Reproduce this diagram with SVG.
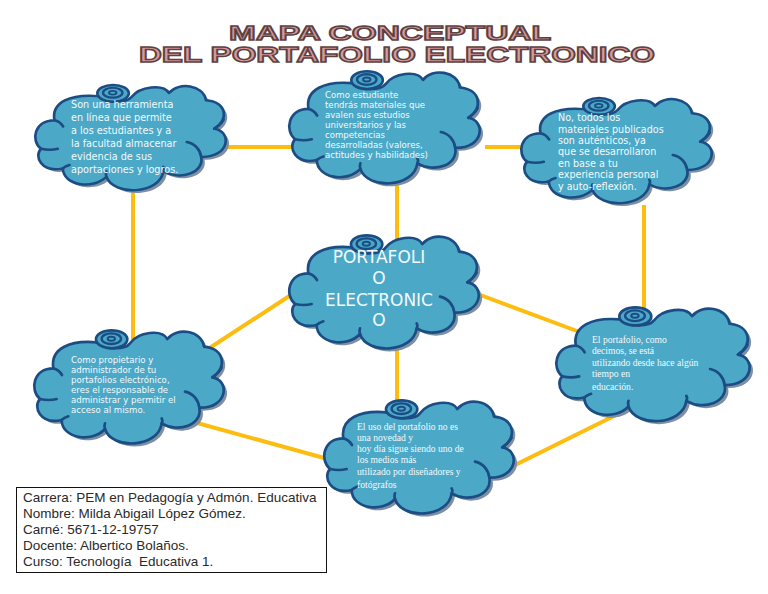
<svg xmlns="http://www.w3.org/2000/svg" width="768" height="594" viewBox="0 0 768 594">
<style>
.bg{fill:#fff}
.t{font-family:"Liberation Sans",Arial,sans-serif;font-weight:bold;fill:#d99a9c;stroke:#5c4141;stroke-width:1.4px}
.link{stroke:#fcbc10;stroke-width:4;fill:none}
.dv{font-family:"DejaVu Sans",sans-serif;fill:#f2fafc}
.se{font-family:"Liberation Serif",serif;fill:#f2fafc;font-size:9.6px}
.box{font-family:"Liberation Sans",Arial,sans-serif;font-size:13.5px;fill:#2a2a2a}
</style>
<defs>
<path id="outline" d="M70 130C60 70 120 45 200 52C225 75 285 75 300 55C325 20 395 12 412 42C440 5 515 15 522 65C585 70 592 130 547 157C600 165 595 250 508 248C518 300 445 325 395 295C385 370 245 375 225 312C185 355 95 340 95 285C30 300 8 245 30 222C-2 195 10 130 70 130Z"/>
<g id="cloud">
<use href="#outline" fill="#7d90a3" transform="translate(10,9)"/>
<use href="#outline" fill="#4ba8c7" stroke="#1b4c84" stroke-width="8" stroke-linejoin="round"/>
<path d="M30 222C48 226 65 226 80 222M70 130C80 132 90 140 96 150M547 157C560 148 570 138 575 128M465 200C490 205 505 225 508 248M395 295C398 290 398 285 395 280M225 312C223 305 223 300 225 295M95 285C100 280 108 276 115 274" fill="none" stroke="#1b4c84" stroke-width="8" stroke-linecap="round"/>
<ellipse cx="245" cy="43" rx="47" ry="27" fill="#4ba8c7" stroke="#1b4c84" stroke-width="8"/>
<ellipse cx="244" cy="41" rx="29" ry="16" fill="none" stroke="#1b4c84" stroke-width="7"/>
<ellipse cx="244" cy="41" rx="11" ry="6" fill="#4ba8c7" stroke="#1b4c84" stroke-width="6"/>
</g>
</defs>
<rect class="bg" width="768" height="594"/>
<g id="title">
<text class="t" x="229" y="39.500" font-size="20.500" textLength="322" lengthAdjust="spacingAndGlyphs">MAPA CONCEPTUAL</text>
<text class="t" x="139" y="61.500" font-size="22" textLength="516" lengthAdjust="spacingAndGlyphs">DEL PORTAFOLIO ELECTRONICO</text>
</g>
<g id="connectors">
<line class="link" x1="215" y1="147" x2="310" y2="147"/>
<line class="link" x1="485" y1="147" x2="535" y2="147"/>
<line class="link" x1="133" y1="185" x2="133" y2="340"/>
<line class="link" x1="397" y1="175" x2="397" y2="245"/>
<line class="link" x1="397" y1="340" x2="397" y2="415"/>
<line class="link" x1="644" y1="205" x2="644" y2="320"/>
<line class="link" x1="300" y1="289" x2="205" y2="351"/>
<line class="link" x1="475" y1="293" x2="585" y2="334"/>
<line class="link" x1="190" y1="421" x2="335" y2="461"/>
<line class="link" x1="505" y1="470" x2="620" y2="413"/>
</g>
<g id="node-herramienta">
<use href="#cloud" transform="translate(31,80) scale(.335,.31)"/>
<g class="dv" font-size="9.700">
<text x="71" y="108">Son una herramienta</text>
<text x="71" y="121">en línea que permite</text>
<text x="71" y="134">a los estudiantes y a</text>
<text x="71" y="147">la facultad almacenar</text>
<text x="71" y="160">evidencia de sus</text>
<text x="71" y="173">aportaciones y logros.</text>
</g>
</g>
<g id="node-estudiante">
<use href="#cloud" transform="translate(285,66) scale(.335,.33)"/>
<g class="dv" font-size="8.600">
<text x="325" y="98">Como estudiante</text>
<text x="325" y="108">tendrás materiales que</text>
<text x="325" y="118">avalen sus estudios</text>
<text x="325" y="128">universitarios y las</text>
<text x="325" y="138">competencias</text>
<text x="325" y="148">desarrolladas (valores,</text>
<text x="325" y="158">actitudes y habilidades)</text>
</g>
</g>
<g id="node-autenticos">
<use href="#cloud" transform="translate(517,93) scale(.335,.31)"/>
<g class="dv" font-size="9.600">
<text x="558" y="121">No, todos los</text>
<text x="558" y="133">materiales publicados</text>
<text x="558" y="144">son auténticos, ya</text>
<text x="558" y="155">que se desarrollaron</text>
<text x="558" y="167">en base a tu</text>
<text x="558" y="178">experiencia personal</text>
<text x="558" y="190">y auto-reflexión.</text>
</g>
</g>
<g id="node-central">
<use href="#cloud" transform="translate(285,230) scale(.3333)"/>
<g class="dv" font-size="17" text-anchor="middle">
<text x="379" y="263">PORTAFOLI</text>
<text x="379" y="284">O</text>
<text x="379" y="306">ELECTRONIC</text>
<text x="379" y="326">O</text>
</g>
</g>
<g id="node-propietario">
<use href="#cloud" transform="translate(30,325) scale(.3333)"/>
<g class="dv" font-size="8.600">
<text x="71" y="363">Como propietario y</text>
<text x="71" y="373">administrador de tu</text>
<text x="71" y="383">portafolios electrónico,</text>
<text x="71" y="393">eres el responsable de</text>
<text x="71" y="403">administrar y permitir el</text>
<text x="71" y="413">acceso al mismo.</text>
</g>
</g>
<g id="node-uso">
<use href="#cloud" transform="translate(320,395) scale(.3333)"/>
<text class="se" x="357" y="430">El uso del portafolio no es</text>
<text class="se" x="357" y="441">una novedad y</text>
<text class="se" x="357" y="452">hoy día sigue siendo uno de</text>
<text class="se" x="357" y="463">los medios más</text>
<text class="se" x="357" y="475">utilizado por diseñadores y</text>
<text class="se" x="357" y="488">fotógrafos</text>
</g>
<g id="node-decimos">
<use href="#cloud" transform="translate(552,302) scale(.34,.335)"/>
<text class="se" x="592" y="343">El portafolio, como</text>
<text class="se" x="592" y="354">decimos, se está</text>
<text class="se" x="592" y="366">utilizando desde hace algún</text>
<text class="se" x="592" y="377">tiempo en</text>
<text class="se" x="592" y="390">educación.</text>
</g>
<g id="node-datos">
<rect x="16.500" y="487.500" width="310" height="85" fill="#fff" stroke="#111" stroke-width="1"/>
<text class="box" x="23" y="502">Carrera: PEM en Pedagogía y Admón. Educativa</text>
<text class="box" x="23" y="518">Nombre: Milda Abigail López Gómez.</text>
<text class="box" x="23" y="534">Carné: 5671-12-19757</text>
<text class="box" x="23" y="550">Docente: Albertico Bolaños.</text>
<text class="box" x="23" y="566" xml:space="preserve">Curso: Tecnología  Educativa 1.</text>
</g>
</svg>
